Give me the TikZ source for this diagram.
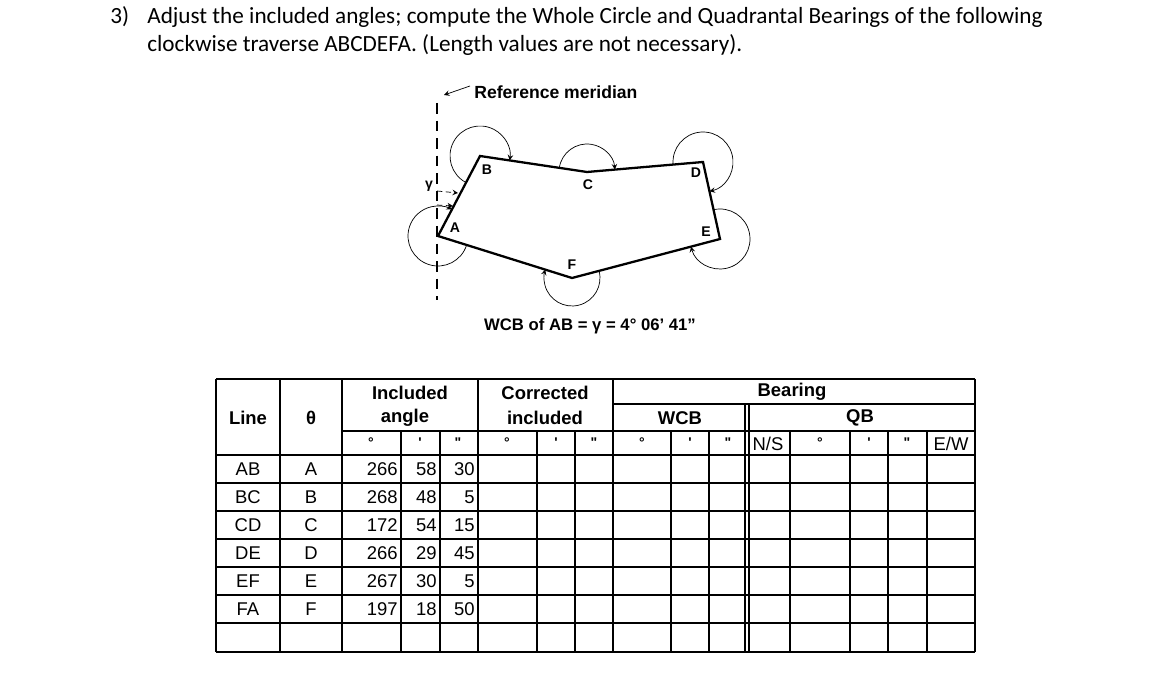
\documentclass[tikz,border=0pt]{standalone}
\usepackage{fontspec}
\setmainfont{Liberation Sans}
\newfontfamily\titlefont{Carlito}
\newfontfamily\plainsans[Ligatures=ResetAll]{Liberation Sans}
\begin{document}
\begin{tikzpicture}[x=0.02cm,y=0.02cm,
  edge/.style={line width=1.3pt,line join=miter},
  turn/.style={thin,-stealth},
  grid/.style={line width=0.9pt},
  hd/.style={font=\bfseries\fontsize{10.5}{12}\selectfont,inner sep=0pt},
  cell/.style={font=\fontsize{10.5}{12}\selectfont,inner sep=0pt},
  lbl/.style={font=\bfseries\fontsize{8}{9}\selectfont,inner sep=0pt},
  unit/.style={font=\plainsans\bfseries\fontsize{8}{9}\selectfont,inner sep=0pt},
  ttl/.style={anchor=west,inner sep=0pt,font=\titlefont\fontsize{13.2}{16}\selectfont}]
\useasboundingbox (0,0) rectangle (1159,693);
% title
\node[ttl] (n3) at (110,676) {3)};
\node[ttl] (t1) at (147,676) {Adjust the included angles; compute the Whole Circle and Quadrantal Bearings of the following};
\node[ttl] (t2) at (147,648) {clockwise traverse ABCDEFA. (Length values are not necessary).};
% traverse
\coordinate (A) at (438,457);
\coordinate (B) at (480,537);
\coordinate (C) at (587,521);
\coordinate (D) at (703,531);
\coordinate (E) at (720,454);
\coordinate (F) at (572,415);
\coordinate (M1) at (437,590);
\coordinate (M2) at (437,393);
\draw[thick,dash pattern=on 6pt off 4pt] (M1) -- (M2);
\draw[edge] (A) -- (B) -- (C) -- (D) -- (E) -- (F) -- cycle;
\draw[turn] ([shift={(242:30)}]B) arc[start angle=242,end angle=-8.5,radius=30];
\draw[turn] ([shift={(171.5:28)}]C) arc[start angle=171.5,end angle=5,radius=28];
\draw[turn] ([shift={(185:30)}]D) arc[start angle=185,end angle=-77.5,radius=30];
\draw[turn] ([shift={(102.5:30)}]E) arc[start angle=102.5,end angle=-165.2,radius=30];
\draw[turn] ([shift={(14.8:28)}]F) arc[start angle=14.8,end angle=-197.4,radius=28];
\draw[turn] ([shift={(-17.4:30)}]A) arc[start angle=-17.4,end angle=-297.7,radius=30];
\coordinate (g1) at (437,502); \coordinate (g1e) at (458,500);
\coordinate (g2) at (437,488); \coordinate (g2e) at (453,487);
\draw[turn,densely dashed] (g1) -- (g1e);
\draw[turn,densely dashed] (g2) -- (g2e);
\node[lbl] (gam) at (429,507) {γ};
\node[lbl] (lA) at (455,465) {A};
\node[lbl] (lB) at (487,523) {B};
\node[lbl] (lC) at (588,508) {C};
\node[lbl] (lD) at (696,520) {D};
\node[lbl] (lE) at (706,461) {E};
\node[lbl] (lF) at (572,428) {F};
\node[lbl,anchor=west,font=\bfseries\fontsize{10}{12}\selectfont] (rm) at (474,601) {Reference meridian};
\coordinate (rmA) at (470,607);
\coordinate (rmB) at (444,598);
\draw[thin,-stealth] (rmA) -- (rmB);
\node[lbl,font=\bfseries\fontsize{9.5}{11}\selectfont] (wcb) at (590,367) {WCB of AB = γ = 4° 06’ 41”};
% table lines
\foreach \y in {314,238,210,182,154,126,98,70,41} \draw[grid] (216,\y) -- (975,\y);
\draw[grid] (613,289) -- (975,289);
\draw[grid] (342,262) -- (975,262);
\foreach \x in {216,280,342,478,613,975} \draw[grid] (\x,314) -- (\x,41);
\foreach \x in {401,440,537,575,671,709,790,850,888,927} \draw[grid] (\x,262) -- (\x,41);
\draw[grid] (745,289) -- (745,41);
\draw[grid] (749,289) -- (749,41);
% headers
\node[hd] (hLine) at (248,275) {Line};
\node[hd] (hth) at (311,275) {θ};
\node[hd] (hInc) at (410,300) {Included};
\node[hd] (hAng) at (405,275) {angle};
\node[hd] (hCor) at (545,300) {Corrected};
\node[hd] (hCi) at (545,275) {included};
\node[hd] (hBear) at (792,301) {Bearing};
\node[hd] (hWCB) at (680,275) {WCB};
\node[hd] (hQB) at (860,275) {QB};
\foreach \x/\s [count=\i] in {371/°,420/\char"0027,458/\char"0022,507/°,556/\char"0027,594/\char"0022,642/°,690/\char"0027,728/\char"0022,820/°,869/\char"0027,907/\char"0022}
  \node[unit] (u\i) at (\x,250) {\s};
\node[cell] (uNS) at (768,249) {N/S};
\node[cell] (uEW) at (951,249) {E/W};
% rows
\foreach \l/\t/\d/\m/\s [count=\i] in {AB/A/266/58/30,BC/B/268/48/5,CD/C/172/54/15,DE/D/266/29/45,EF/E/267/30/5,FA/F/197/18/50}{
  \pgfmathsetmacro{\yy}{224-28*(\i-1)}
  \node[cell] (l\i) at (248,\yy) {\l};
  \node[cell] (t\i) at (311,\yy) {\t};
  \node[cell,anchor=east] (d\i) at (398,\yy) {\d};
  \node[cell,anchor=east] (m\i) at (437,\yy) {\m};
  \node[cell,anchor=east] (s\i) at (475,\yy) {\s};
}
\end{tikzpicture}
\end{document}
